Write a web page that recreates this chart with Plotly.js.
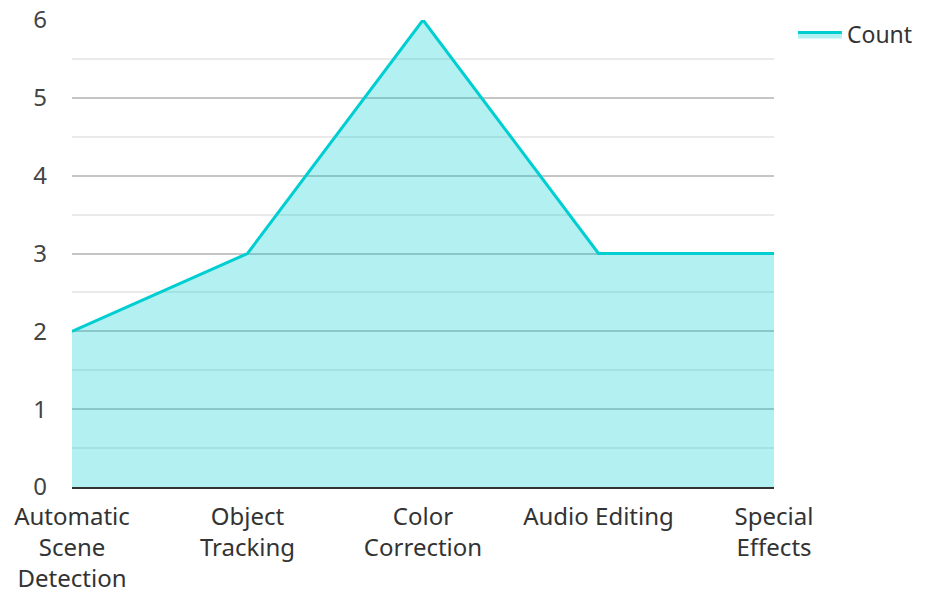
<!DOCTYPE html>
<html><head><meta charset="utf-8">
<script src="https://cdn.plot.ly/plotly-3.0.1.min.js"></script>
<style>html,body{margin:0;padding:0;background:#fff}#c{width:932px;height:592px}</style>
</head><body><div id="c"></div>
<script>
const categories = ["Automatic<br>Scene<br>Detection", "Object<br>Tracking", "Color<br>Correction", "Audio Editing", "Special<br>Effects"];
const counts = [2, 3, 6, 3, 3];
const seriesName = "Count";

const trace = {
  x: categories, y: counts, name: seriesName, type: "scatter", mode: "lines",
  fill: "tozeroy", fillcolor: "rgba(0,206,209,0.3)",
  line: {color: "#00CED1", width: 3}
};
const layout = {
  width: 932, height: 592,
  margin: {l: 72, r: 158, t: 20, b: 105},
  paper_bgcolor: "#fff", plot_bgcolor: "#fff",
  font: {family: "Noto Sans, Open Sans, sans-serif", size: 24, color: "#333"},
  showlegend: true,
  legend: {x: 1.027, y: 1.015, xanchor: "left", yanchor: "top", itemwidth: 44, font: {size: 23, color: "#333"}},
  xaxis: {type: "category", range: [0, 4], showgrid: false, showline: true, linecolor: "#333", linewidth: 2,
          ticks: "", ticklabelstandoff: 7, tickfont: {size: 24, color: "#333"}, automargin: false, fixedrange: true},
  yaxis: {range: [0, 6], dtick: 1, showgrid: true, gridcolor: "rgba(150,150,150,0.55)", gridwidth: 2,
          zeroline: false, showline: false, ticks: "", ticklabelstandoff: 24,
          tickfont: {size: 24, color: "#444"}, automargin: false,
          minor: {dtick: 0.5, showgrid: true, gridcolor: "rgba(150,150,150,0.2)", gridwidth: 2}}
};
Plotly.newPlot("c", [trace], layout, {displayModeBar: false, staticPlot: true});
</script></body></html>
